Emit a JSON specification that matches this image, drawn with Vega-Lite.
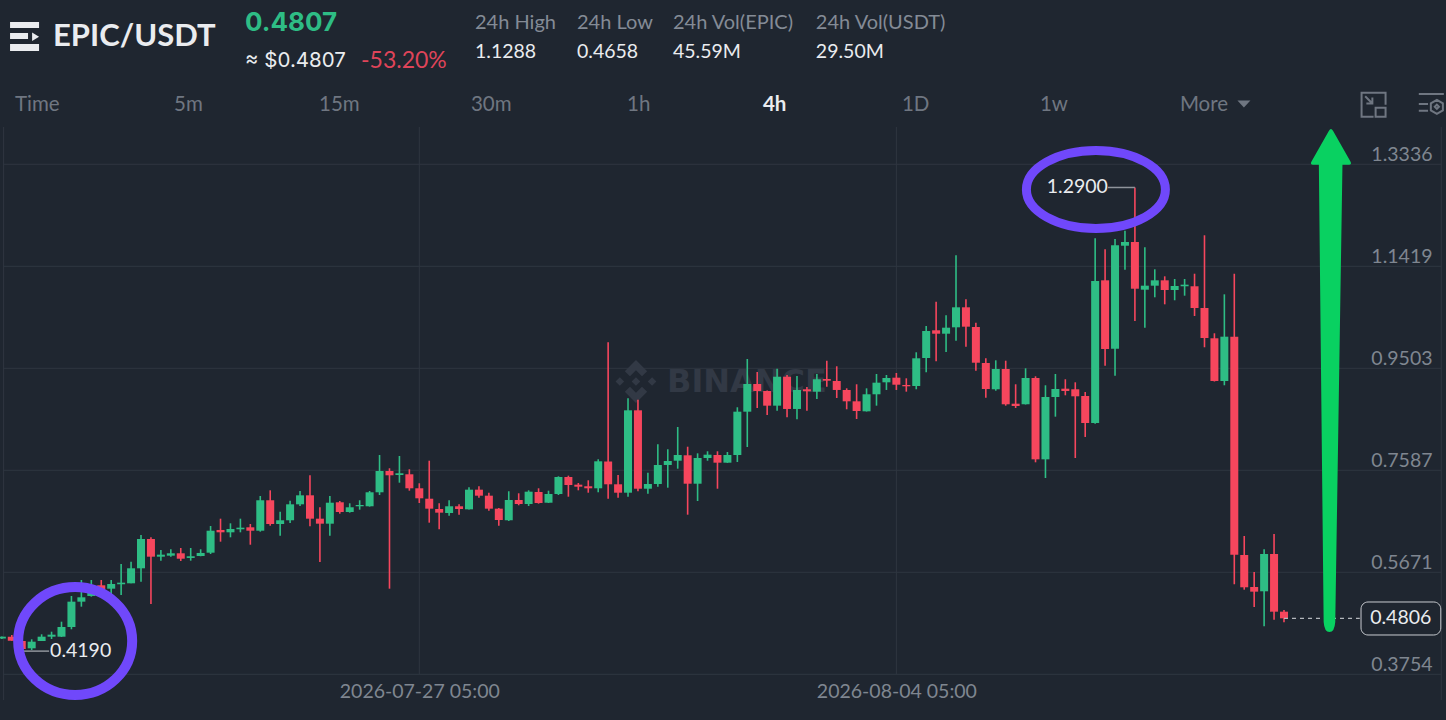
{
"$schema":"https://vega.github.io/schema/vega-lite/v6.json",
"description":"EPIC/USDT 4h candlestick screen with annotated low, high and a green up arrow",
"width":1446,"height":720,
"autosize":{"type":"none"},
"padding":0,
"background":"#1f2630",
"resolve":{"axis":{"x":"independent","y":"independent"}},
"datasets":{
"candles":[
{"t":"2026-07-20T05:00:00Z","o":0.4427,"h":0.4465,"l":0.4418,"c":0.4461},
{"t":"2026-07-20T09:00:00Z","o":0.4461,"h":0.4493,"l":0.4386,"c":0.4386},
{"t":"2026-07-20T13:00:00Z","o":0.4380,"h":0.4399,"l":0.4190,"c":0.4230},
{"t":"2026-07-20T17:00:00Z","o":0.4243,"h":0.4412,"l":0.4211,"c":0.4367},
{"t":"2026-07-20T21:00:00Z","o":0.4380,"h":0.4506,"l":0.4380,"c":0.4461},
{"t":"2026-07-21T01:00:00Z","o":0.4461,"h":0.4555,"l":0.4418,"c":0.4499},
{"t":"2026-07-21T05:00:00Z","o":0.4461,"h":0.4743,"l":0.4456,"c":0.4643},
{"t":"2026-07-21T09:00:00Z","o":0.4643,"h":0.5226,"l":0.4600,"c":0.5119},
{"t":"2026-07-21T13:00:00Z","o":0.5119,"h":0.5526,"l":0.5025,"c":0.5201},
{"t":"2026-07-21T17:00:00Z","o":0.5226,"h":0.5526,"l":0.5213,"c":0.5288},
{"t":"2026-07-21T21:00:00Z","o":0.5427,"h":0.5526,"l":0.5307,"c":0.5352},
{"t":"2026-07-22T01:00:00Z","o":0.5363,"h":0.5526,"l":0.5263,"c":0.5451},
{"t":"2026-07-22T05:00:00Z","o":0.5446,"h":0.5827,"l":0.5245,"c":0.5476},
{"t":"2026-07-22T09:00:00Z","o":0.5464,"h":0.5870,"l":0.5464,"c":0.5746},
{"t":"2026-07-22T13:00:00Z","o":0.5746,"h":0.6372,"l":0.5494,"c":0.6296},
{"t":"2026-07-22T17:00:00Z","o":0.6296,"h":0.6328,"l":0.5075,"c":0.5964},
{"t":"2026-07-22T21:00:00Z","o":0.5964,"h":0.6090,"l":0.5889,"c":0.6002},
{"t":"2026-07-23T01:00:00Z","o":0.5983,"h":0.6103,"l":0.5964,"c":0.6028},
{"t":"2026-07-23T05:00:00Z","o":0.6028,"h":0.6127,"l":0.5883,"c":0.5926},
{"t":"2026-07-23T09:00:00Z","o":0.5940,"h":0.6127,"l":0.5889,"c":0.5972},
{"t":"2026-07-23T13:00:00Z","o":0.5977,"h":0.6103,"l":0.5972,"c":0.6034},
{"t":"2026-07-23T17:00:00Z","o":0.6039,"h":0.6541,"l":0.6015,"c":0.6452},
{"t":"2026-07-23T21:00:00Z","o":0.6466,"h":0.6678,"l":0.6246,"c":0.6422},
{"t":"2026-07-24T01:00:00Z","o":0.6422,"h":0.6591,"l":0.6328,"c":0.6484},
{"t":"2026-07-24T05:00:00Z","o":0.6479,"h":0.6678,"l":0.6422,"c":0.6509},
{"t":"2026-07-24T09:00:00Z","o":0.6516,"h":0.6578,"l":0.6189,"c":0.6452},
{"t":"2026-07-24T13:00:00Z","o":0.6452,"h":0.7104,"l":0.6434,"c":0.7024},
{"t":"2026-07-24T17:00:00Z","o":0.7024,"h":0.7211,"l":0.6546,"c":0.6578},
{"t":"2026-07-24T21:00:00Z","o":0.6578,"h":0.6809,"l":0.6358,"c":0.6648},
{"t":"2026-07-25T01:00:00Z","o":0.6648,"h":0.7016,"l":0.6597,"c":0.6948},
{"t":"2026-07-25T05:00:00Z","o":0.6948,"h":0.7198,"l":0.6916,"c":0.7117},
{"t":"2026-07-25T09:00:00Z","o":0.7117,"h":0.7493,"l":0.6535,"c":0.6678},
{"t":"2026-07-25T13:00:00Z","o":0.6678,"h":0.6892,"l":0.5864,"c":0.6584},
{"t":"2026-07-25T17:00:00Z","o":0.6584,"h":0.7104,"l":0.6358,"c":0.6978},
{"t":"2026-07-25T21:00:00Z","o":0.6986,"h":0.7010,"l":0.6772,"c":0.6804},
{"t":"2026-07-26T01:00:00Z","o":0.6804,"h":0.6967,"l":0.6791,"c":0.6892},
{"t":"2026-07-26T05:00:00Z","o":0.6911,"h":0.7024,"l":0.6847,"c":0.6935},
{"t":"2026-07-26T09:00:00Z","o":0.6911,"h":0.7198,"l":0.6905,"c":0.7174},
{"t":"2026-07-26T13:00:00Z","o":0.7174,"h":0.7874,"l":0.7123,"c":0.7574},
{"t":"2026-07-26T17:00:00Z","o":0.7574,"h":0.7625,"l":0.5363,"c":0.7493},
{"t":"2026-07-26T21:00:00Z","o":0.7499,"h":0.7856,"l":0.7354,"c":0.7531},
{"t":"2026-07-27T01:00:00Z","o":0.7512,"h":0.7606,"l":0.7204,"c":0.7249},
{"t":"2026-07-27T05:00:00Z","o":0.7249,"h":0.7343,"l":0.6973,"c":0.7061},
{"t":"2026-07-27T09:00:00Z","o":0.7053,"h":0.7767,"l":0.6603,"c":0.6866},
{"t":"2026-07-27T13:00:00Z","o":0.6860,"h":0.6967,"l":0.6479,"c":0.6791},
{"t":"2026-07-27T17:00:00Z","o":0.6785,"h":0.7024,"l":0.6734,"c":0.6911},
{"t":"2026-07-27T21:00:00Z","o":0.6911,"h":0.6948,"l":0.6753,"c":0.6860},
{"t":"2026-07-28T01:00:00Z","o":0.6854,"h":0.7268,"l":0.6851,"c":0.7223},
{"t":"2026-07-28T05:00:00Z","o":0.7223,"h":0.7287,"l":0.7072,"c":0.7110},
{"t":"2026-07-28T09:00:00Z","o":0.7110,"h":0.7166,"l":0.6828,"c":0.6866},
{"t":"2026-07-28T13:00:00Z","o":0.6866,"h":0.6879,"l":0.6546,"c":0.6653},
{"t":"2026-07-28T17:00:00Z","o":0.6648,"h":0.7193,"l":0.6635,"c":0.7029},
{"t":"2026-07-28T21:00:00Z","o":0.7029,"h":0.7155,"l":0.6930,"c":0.6954},
{"t":"2026-07-29T01:00:00Z","o":0.6954,"h":0.7211,"l":0.6916,"c":0.7185},
{"t":"2026-07-29T05:00:00Z","o":0.7179,"h":0.7249,"l":0.6960,"c":0.6973},
{"t":"2026-07-29T09:00:00Z","o":0.6978,"h":0.7204,"l":0.6973,"c":0.7142},
{"t":"2026-07-29T13:00:00Z","o":0.7142,"h":0.7474,"l":0.7123,"c":0.7461},
{"t":"2026-07-29T17:00:00Z","o":0.7461,"h":0.7486,"l":0.7091,"c":0.7311},
{"t":"2026-07-29T21:00:00Z","o":0.7317,"h":0.7348,"l":0.7211,"c":0.7279},
{"t":"2026-07-30T01:00:00Z","o":0.7287,"h":0.7399,"l":0.7166,"c":0.7249},
{"t":"2026-07-30T05:00:00Z","o":0.7249,"h":0.7794,"l":0.7174,"c":0.7756},
{"t":"2026-07-30T09:00:00Z","o":0.7752,"h":0.9992,"l":0.7053,"c":0.7324},
{"t":"2026-07-30T13:00:00Z","o":0.7324,"h":0.7499,"l":0.7072,"c":0.7166},
{"t":"2026-07-30T17:00:00Z","o":0.7166,"h":0.8940,"l":0.7091,"c":0.8714},
{"t":"2026-07-30T21:00:00Z","o":0.8714,"h":0.8913,"l":0.7193,"c":0.7241},
{"t":"2026-07-31T01:00:00Z","o":0.7241,"h":0.7542,"l":0.7147,"c":0.7330},
{"t":"2026-07-31T05:00:00Z","o":0.7330,"h":0.8075,"l":0.7279,"c":0.7687},
{"t":"2026-07-31T09:00:00Z","o":0.7687,"h":0.7982,"l":0.7260,"c":0.7762},
{"t":"2026-07-31T13:00:00Z","o":0.7767,"h":0.8400,"l":0.7617,"c":0.7874},
{"t":"2026-07-31T17:00:00Z","o":0.7869,"h":0.8030,"l":0.6753,"c":0.7335},
{"t":"2026-07-31T21:00:00Z","o":0.7335,"h":0.7906,"l":0.7010,"c":0.7818},
{"t":"2026-08-01T01:00:00Z","o":0.7818,"h":0.7944,"l":0.7767,"c":0.7880},
{"t":"2026-08-01T05:00:00Z","o":0.7874,"h":0.7944,"l":0.7241,"c":0.7730},
{"t":"2026-08-01T09:00:00Z","o":0.7730,"h":0.7931,"l":0.7726,"c":0.7874},
{"t":"2026-08-01T13:00:00Z","o":0.7874,"h":0.8771,"l":0.7743,"c":0.8688},
{"t":"2026-08-01T17:00:00Z","o":0.8688,"h":0.9678,"l":0.8025,"c":0.9208},
{"t":"2026-08-01T21:00:00Z","o":0.9208,"h":0.9434,"l":0.8757,"c":0.9077},
{"t":"2026-08-02T01:00:00Z","o":0.9077,"h":0.9086,"l":0.8626,"c":0.8801},
{"t":"2026-08-02T05:00:00Z","o":0.8801,"h":0.9496,"l":0.8707,"c":0.9345},
{"t":"2026-08-02T09:00:00Z","o":0.9345,"h":0.9377,"l":0.8583,"c":0.8739},
{"t":"2026-08-02T13:00:00Z","o":0.8739,"h":0.9358,"l":0.8545,"c":0.9096},
{"t":"2026-08-02T17:00:00Z","o":0.9109,"h":0.9152,"l":0.8707,"c":0.9071},
{"t":"2026-08-02T21:00:00Z","o":0.9064,"h":0.9396,"l":0.8926,"c":0.9297},
{"t":"2026-08-03T01:00:00Z","o":0.9302,"h":0.9646,"l":0.9157,"c":0.9270},
{"t":"2026-08-03T05:00:00Z","o":0.9265,"h":0.9541,"l":0.8945,"c":0.9096},
{"t":"2026-08-03T09:00:00Z","o":0.9096,"h":0.9127,"l":0.8733,"c":0.8883},
{"t":"2026-08-03T13:00:00Z","o":0.8883,"h":0.9203,"l":0.8551,"c":0.8701},
{"t":"2026-08-03T17:00:00Z","o":0.8695,"h":0.9127,"l":0.8691,"c":0.9015},
{"t":"2026-08-03T21:00:00Z","o":0.9015,"h":0.9396,"l":0.8801,"c":0.9233},
{"t":"2026-08-04T01:00:00Z","o":0.9240,"h":0.9377,"l":0.9096,"c":0.9321},
{"t":"2026-08-04T05:00:00Z","o":0.9327,"h":0.9415,"l":0.9096,"c":0.9195},
{"t":"2026-08-04T09:00:00Z","o":0.9189,"h":0.9315,"l":0.9064,"c":0.9165},
{"t":"2026-08-04T13:00:00Z","o":0.9171,"h":0.9804,"l":0.9109,"c":0.9691},
{"t":"2026-08-04T17:00:00Z","o":0.9697,"h":1.0298,"l":0.9428,"c":1.0204},
{"t":"2026-08-04T21:00:00Z","o":1.0217,"h":1.0754,"l":0.9635,"c":1.0153},
{"t":"2026-08-05T01:00:00Z","o":1.0153,"h":1.0499,"l":0.9809,"c":1.0266},
{"t":"2026-08-05T05:00:00Z","o":1.0273,"h":1.1626,"l":1.0022,"c":1.0649},
{"t":"2026-08-05T09:00:00Z","o":1.0649,"h":1.0799,"l":0.9909,"c":1.0285},
{"t":"2026-08-05T13:00:00Z","o":1.0279,"h":1.0360,"l":0.9458,"c":0.9608},
{"t":"2026-08-05T17:00:00Z","o":0.9603,"h":0.9691,"l":0.8951,"c":0.9114},
{"t":"2026-08-05T21:00:00Z","o":0.9109,"h":0.9653,"l":0.9082,"c":0.9490},
{"t":"2026-08-06T01:00:00Z","o":0.9490,"h":0.9646,"l":0.8801,"c":0.8827},
{"t":"2026-08-06T05:00:00Z","o":0.8838,"h":0.9203,"l":0.8757,"c":0.8795},
{"t":"2026-08-06T09:00:00Z","o":0.8827,"h":0.9503,"l":0.8823,"c":0.9321},
{"t":"2026-08-06T13:00:00Z","o":0.9321,"h":0.9353,"l":0.7737,"c":0.7793},
{"t":"2026-08-06T17:00:00Z","o":0.7793,"h":0.9184,"l":0.7442,"c":0.8964},
{"t":"2026-08-06T21:00:00Z","o":0.8964,"h":0.9396,"l":0.8594,"c":0.9114},
{"t":"2026-08-07T01:00:00Z","o":0.9120,"h":0.9297,"l":0.8996,"c":0.9077},
{"t":"2026-08-07T05:00:00Z","o":0.9109,"h":0.9240,"l":0.7818,"c":0.8977},
{"t":"2026-08-07T09:00:00Z","o":0.8983,"h":0.9058,"l":0.8213,"c":0.8475},
{"t":"2026-08-07T13:00:00Z","o":0.8475,"h":1.1945,"l":0.8462,"c":1.1143},
{"t":"2026-08-07T17:00:00Z","o":1.1156,"h":1.1738,"l":0.9552,"c":0.9866},
{"t":"2026-08-07T21:00:00Z","o":0.9871,"h":1.1932,"l":0.9364,"c":1.1814},
{"t":"2026-08-08T01:00:00Z","o":1.1806,"h":1.2088,"l":1.1355,"c":1.1876},
{"t":"2026-08-08T05:00:00Z","o":1.1876,"h":1.2900,"l":1.0392,"c":1.0998},
{"t":"2026-08-08T09:00:00Z","o":1.0980,"h":1.1776,"l":1.0266,"c":1.1055},
{"t":"2026-08-08T13:00:00Z","o":1.1055,"h":1.1363,"l":1.0837,"c":1.1156},
{"t":"2026-08-08T17:00:00Z","o":1.1156,"h":1.1231,"l":1.0705,"c":1.0974},
{"t":"2026-08-08T21:00:00Z","o":1.0974,"h":1.1181,"l":1.0781,"c":1.1049},
{"t":"2026-08-09T01:00:00Z","o":1.1044,"h":1.1181,"l":1.0867,"c":1.1074},
{"t":"2026-08-09T05:00:00Z","o":1.1044,"h":1.1280,"l":1.0486,"c":1.0636},
{"t":"2026-08-09T09:00:00Z","o":1.0636,"h":1.2002,"l":0.9898,"c":1.0072},
{"t":"2026-08-09T13:00:00Z","o":1.0067,"h":1.0161,"l":0.9255,"c":0.9265},
{"t":"2026-08-09T17:00:00Z","o":0.9265,"h":1.0893,"l":0.9184,"c":1.0097},
{"t":"2026-08-09T21:00:00Z","o":1.0097,"h":1.1280,"l":0.5446,"c":0.6002},
{"t":"2026-08-10T01:00:00Z","o":0.5996,"h":0.6353,"l":0.5344,"c":0.5389},
{"t":"2026-08-10T05:00:00Z","o":0.5395,"h":0.5677,"l":0.5019,"c":0.5307},
{"t":"2026-08-10T09:00:00Z","o":0.5314,"h":0.6103,"l":0.4657,"c":0.6015},
{"t":"2026-08-10T13:00:00Z","o":0.6015,"h":0.6390,"l":0.4781,"c":0.4931},
{"t":"2026-08-10T17:00:00Z","o":0.4931,"h":0.4963,"l":0.4732,"c":0.4806}
],
"header":[
{"label":"24h High","t":"2026-07-28T03:25:00Z","price":1.5990},
{"label":"24h Low","t":"2026-07-29T20:28:00Z","price":1.5990},
{"label":"24h Vol(EPIC)","t":"2026-07-31T11:05:00Z","price":1.5990},
{"label":"24h Vol(USDT)","t":"2026-08-02T20:36:00Z","price":1.5990}
],
"headerValues":[
{"label":"1.1288","t":"2026-07-28T03:25:00Z","price":1.5445},
{"label":"0.4658","t":"2026-07-29T20:28:00Z","price":1.5445},
{"label":"45.59M","t":"2026-07-31T11:05:00Z","price":1.5445},
{"label":"29.50M","t":"2026-08-02T20:36:00Z","price":1.5445}
],
"nav":[
{"label":"Time","t":"2026-07-20T10:18:00Z","price":1.4449},
{"label":"5m","t":"2026-07-23T02:18:00Z","price":1.4449},
{"label":"15m","t":"2026-07-25T12:38:00Z","price":1.4449},
{"label":"30m","t":"2026-07-28T01:48:00Z","price":1.4449},
{"label":"1h","t":"2026-07-30T16:35:00Z","price":1.4449},
{"label":"1D","t":"2026-08-04T07:14:00Z","price":1.4449},
{"label":"1w","t":"2026-08-06T14:46:00Z","price":1.4449},
{"label":"More","t":"2026-08-08T23:06:00Z","price":1.4449}
]
},
"layer":[
{"data":{"values":[
{"t":"2026-07-20T05:42:00Z","t2":"2026-08-13T08:18:00Z","price":1.3336},
{"t":"2026-07-20T05:42:00Z","t2":"2026-08-13T08:18:00Z","price":1.1419},
{"t":"2026-07-20T05:42:00Z","t2":"2026-08-13T08:18:00Z","price":0.9503},
{"t":"2026-07-20T05:42:00Z","t2":"2026-08-13T08:18:00Z","price":0.7587},
{"t":"2026-07-20T05:42:00Z","t2":"2026-08-13T08:18:00Z","price":0.5671},
{"t":"2026-07-20T05:42:00Z","t2":"2026-08-13T08:18:00Z","price":0.3754}]},
"mark":{"type":"rule","color":"#2f3640","strokeWidth":1},
"encoding":{
"x":{"field":"t","type":"temporal","title":null,
"scale":{"type":"utc","nice":false,"padding":0,"domain":[{"year":2026,"month":7,"date":20,"hours":4,"minutes":15,"utc":true},{"year":2026,"month":8,"date":13,"hours":10,"minutes":12,"utc":true}]},
"axis":{"values":[{"year":2026,"month":7,"date":27,"hours":5,"utc":true},{"year":2026,"month":8,"date":4,"hours":5,"utc":true}],"format":"%Y-%m-%d %H:%M","grid":false,"domain":false,"ticks":false,"offset":-29,"labelPadding":0,"labelBaseline":"middle","labelFont":"Lato","labelFontSize":19.5,"labelColor":"#7f8690","title":null}},
"x2":{"field":"t2"},
"y":{"field":"price","type":"quantitative","title":null,
"scale":{"nice":false,"zero":false,"domain":[0.2896,1.6422]},
"axis":{"orient":"right","values":[1.3336,1.1419,0.9503,0.7587,0.5671,0.3754],"format":".4f","grid":false,"domain":false,"ticks":false,"offset":-14,"labelPadding":0,"labelAlign":"right","labelBaseline":"middle","labelOffset":-10,"labelFont":"Lato","labelFontSize":19.5,"labelColor":"#7f8690","title":null}}
}},
{"data":{"values":[
{"t":"2026-07-27T05:00:00Z","price":0.3754,"price2":1.4036},
{"t":"2026-08-04T05:00:00Z","price":0.3754,"price2":1.4036},
{"t":"2026-07-20T05:42:00Z","price":0.3272,"price2":1.4036},
{"t":"2026-08-13T08:18:00Z","price":0.3272,"price2":1.4036}]},
"mark":{"type":"rule","color":"#2f3640","strokeWidth":1},
"encoding":{"x":{"field":"t","type":"temporal","axis":null},"y":{"field":"price","type":"quantitative","axis":null},"y2":{"field":"price2"}}},
{"data":{"values":[{"label":"BINANCE","t":"2026-07-31T08:41:00Z","price":0.9255}]},
"mark":{"type":"text","align":"left","baseline":"middle","font":"DejaVu Sans","fontWeight":"bold","fontSize":32,"color":"#323945"},
"encoding":{"x":{"field":"t","type":"temporal","axis":null},"y":{"field":"price","type":"quantitative","axis":null},"text":{"field":"label"}}},
{"data":{"values":[{"t":"2026-07-30T20:12:00Z","price":0.9255}]},
"mark":{"type":"point","filled":true,"size":1849,"opacity":1,"color":"#323945","shape":"M0 -0.2 L0.2 0 L0 0.2 L-0.2 0 Z M-0.75 -0.2 L-0.55 0 L-0.75 0.2 L-0.95 0 Z M0.75 -0.2 L0.95 0 L0.75 0.2 L0.55 0 Z M0 -1 L0.52 -0.48 L0.28 -0.24 L0 -0.52 L-0.28 -0.24 L-0.52 -0.48 Z M0 1 L0.52 0.48 L0.28 0.24 L0 0.52 L-0.28 0.24 L-0.52 0.48 Z"},
"encoding":{"x":{"field":"t","type":"temporal","axis":null},"y":{"field":"price","type":"quantitative","axis":null}}},
{"data":{"name":"candles"},
"mark":{"type":"rule","strokeWidth":1.6},
"encoding":{"x":{"field":"t","type":"temporal","axis":null},"y":{"field":"l","type":"quantitative","axis":null},"y2":{"field":"h"},
"color":{"condition":{"test":"datum.c >= datum.o","value":"#2ebd85"},"value":"#f6465d"}}},
{"data":{"name":"candles"},
"mark":{"type":"bar","size":8},
"encoding":{"x":{"field":"t","type":"temporal","axis":null},"y":{"field":"o","type":"quantitative","axis":null},"y2":{"field":"c"},
"color":{"condition":{"test":"datum.c >= datum.o","value":"#2ebd85"},"value":"#f6465d"}}},
{"data":{"values":[
{"t":"2026-07-20T13:00:00Z","t2":"2026-07-21T00:00:00Z","price":0.4190},
{"t":"2026-08-07T18:08:00Z","t2":"2026-08-08T05:00:00Z","price":1.2900}]},
"mark":{"type":"rule","color":"#8f949b","strokeWidth":1.5},
"encoding":{"x":{"field":"t","type":"temporal","axis":null},"x2":{"field":"t2"},"y":{"field":"price","type":"quantitative","axis":null}}},
{"data":{"values":[{"t":"2026-08-10T17:00:00Z","t2":"2026-08-11T23:30:00Z","price":0.4806}]},
"mark":{"type":"rule","color":"#b4b8bd","strokeWidth":1.2,"strokeDash":[4,4]},
"encoding":{"x":{"field":"t","type":"temporal","axis":null},"x2":{"field":"t2"},"y":{"field":"price","type":"quantitative","axis":null}}},
{"data":{"values":[{"t":"2026-08-12T00:00:00Z","t2":"2026-08-13T08:06:00Z","price":0.5113,"price2":0.4493}]},
"mark":{"type":"rect","fill":"#1f2630","stroke":"#c9ccd1","strokeWidth":1,"cornerRadius":7},
"encoding":{"x":{"field":"t","type":"temporal","axis":null},"x2":{"field":"t2"},"y":{"field":"price","type":"quantitative","axis":null},"y2":{"field":"price2"}}},
{"data":{"values":[{"label":"0.4806","t":"2026-08-12T16:00:00Z","price":0.4806}]},
"mark":{"type":"text","align":"center","baseline":"middle","font":"Lato","fontSize":19.5,"color":"#eaecef"},
"encoding":{"x":{"field":"t","type":"temporal","axis":null},"y":{"field":"price","type":"quantitative","axis":null},"text":{"field":"label"}}},
{"data":{"values":[{"t":"2026-07-21T10:30:00Z","price":0.4380}]},
"mark":{"type":"point","filled":false,"opacity":1,"size":12996,"stroke":"#7048fb","strokeWidth":10,"shape":"M-1 0 C-1 -0.523 -0.552 -0.947 0 -0.947 C0.552 -0.947 1 -0.523 1 0 C1 0.523 0.552 0.947 0 0.947 C-0.552 0.947 -1 0.523 -1 0 Z"},
"encoding":{"x":{"field":"t","type":"temporal","axis":null},"y":{"field":"price","type":"quantitative","axis":null}}},
{"data":{"values":[{"t":"2026-08-07T13:18:00Z","price":1.2862}]},
"mark":{"type":"point","filled":false,"opacity":1,"size":19321,"stroke":"#7048fb","strokeWidth":9,"shape":"M-1 0 C-1 -0.31 -0.552 -0.561 0 -0.561 C0.552 -0.561 1 -0.31 1 0 C1 0.31 0.552 0.561 0 0.561 C-0.552 0.561 -1 0.31 -1 0 Z"},
"encoding":{"x":{"field":"t","type":"temporal","axis":null},"y":{"field":"price","type":"quantitative","axis":null}}},
{"data":{"values":[{"label":"0.4190","t":"2026-07-21T00:00:00Z","price":0.4190}]},
"mark":{"type":"text","align":"left","baseline":"middle","dx":1,"font":"Lato","fontSize":19.5,"color":"#eaecef"},
"encoding":{"x":{"field":"t","type":"temporal","axis":null},"y":{"field":"price","type":"quantitative","axis":null},"text":{"field":"label"}}},
{"data":{"values":[{"label":"1.2900","t":"2026-08-07T18:08:00Z","price":1.2900}]},
"mark":{"type":"text","align":"right","baseline":"middle","font":"Lato","fontSize":19.5,"color":"#eaecef"},
"encoding":{"x":{"field":"t","type":"temporal","axis":null},"y":{"field":"price","type":"quantitative","axis":null},"text":{"field":"label"}}},
{"data":{"values":[{"t":"2026-08-11T11:30:00Z","price":0.9293}]},
"mark":{"type":"point","filled":true,"opacity":1,"size":255025,"color":"#09d161","shape":"M-0.004 -0.985 Q0.004 -1 0.012 -0.985 L0.08 -0.865 Q0.09 -0.85 0.07 -0.85 L0.0495 -0.85 L0.021 0.96 Q0.018 1 -0.002 1 Q-0.022 1 -0.025 0.96 L-0.044 -0.85 L-0.062 -0.85 Q-0.082 -0.85 -0.072 -0.865 Z"},
"encoding":{"x":{"field":"t","type":"temporal","axis":null},"y":{"field":"price","type":"quantitative","axis":null}}},
{"data":{"values":[{"label":"EPIC/USDT","t":"2026-07-21T01:36:00Z","price":1.5727}]},
"mark":{"type":"text","align":"left","baseline":"middle","font":"Lato","fontWeight":"bold","fontSize":31,"color":"#eaecef"},
"encoding":{"x":{"field":"t","type":"temporal","axis":null},"y":{"field":"price","type":"quantitative","axis":null},"text":{"field":"label"}}},
{"data":{"values":[{"label":"0.4807","t":"2026-07-24T06:52:00Z","price":1.5990}]},
"mark":{"type":"text","align":"left","baseline":"middle","font":"Inter","fontWeight":"bold","fontSize":26,"color":"#2ebd85"},
"encoding":{"x":{"field":"t","type":"temporal","axis":null},"y":{"field":"price","type":"quantitative","axis":null},"text":{"field":"label"}}},
{"data":{"values":[{"label":"≈ $0.4807","t":"2026-07-24T06:52:00Z","price":1.5276}]},
"mark":{"type":"text","align":"left","baseline":"middle","font":"Inter","fontSize":20.5,"color":"#eaecef"},
"encoding":{"x":{"field":"t","type":"temporal","axis":null},"y":{"field":"price","type":"quantitative","axis":null},"text":{"field":"label"}}},
{"data":{"values":[{"label":"-53.20%","t":"2026-07-26T05:32:00Z","price":1.5276}]},
"mark":{"type":"text","align":"left","baseline":"middle","font":"Lato","fontSize":23,"color":"#df4459"},
"encoding":{"x":{"field":"t","type":"temporal","axis":null},"y":{"field":"price","type":"quantitative","axis":null},"text":{"field":"label"}}},
{"data":{"name":"headerValues"},
"mark":{"type":"text","align":"left","baseline":"middle","font":"Lato","fontSize":19.5,"color":"#eaecef"},
"encoding":{"x":{"field":"t","type":"temporal","axis":null},"y":{"field":"price","type":"quantitative","axis":null},"text":{"field":"label"}}},
{"data":{"name":"header"},
"mark":{"type":"text","align":"left","baseline":"middle","font":"Lato","fontSize":20,"color":"#848b96"},
"encoding":{"x":{"field":"t","type":"temporal","axis":null},"y":{"field":"price","type":"quantitative","axis":null},"text":{"field":"label"}}},
{"data":{"name":"nav"},
"mark":{"type":"text","align":"left","baseline":"middle","font":"Lato","fontSize":20.5,"color":"#6f7681"},
"encoding":{"x":{"field":"t","type":"temporal","axis":null},"y":{"field":"price","type":"quantitative","axis":null},"text":{"field":"label"}}},
{"data":{"values":[{"label":"4h","t":"2026-08-01T23:18:00Z","price":1.4449}]},
"mark":{"type":"text","align":"left","baseline":"middle","font":"Lato","fontWeight":"bold","fontSize":20.5,"color":"#eaecef"},
"encoding":{"x":{"field":"t","type":"temporal","axis":null},"y":{"field":"price","type":"quantitative","axis":null},"text":{"field":"label"}}},
{"data":{"values":[{"t":"2026-08-10T00:52:00Z","price":1.4468}]},
"mark":{"type":"point","filled":true,"opacity":1,"size":169,"color":"#6f7681","shape":"M-1 -0.55 L1 -0.55 L0 0.55 Z"},
"encoding":{"x":{"field":"t","type":"temporal","axis":null},"y":{"field":"price","type":"quantitative","axis":null}}},
{"data":{"values":[{"t":"2026-07-20T14:08:00Z","price":1.5736}]},
"mark":{"type":"point","filled":true,"opacity":1,"size":841,"color":"#eaecef","shape":"M-1 -1 L1 -1 L1 -0.586 L-1 -0.586 Z M-1 -0.24 L0.24 -0.24 L0.24 0.17 L-1 0.17 Z M0.52 -0.28 L1 0.02 L0.52 0.31 Z M-1 0.52 L1 0.52 L1 1 L-1 1 Z"},
"encoding":{"x":{"field":"t","type":"temporal","axis":null},"y":{"field":"price","type":"quantitative","axis":null}}},
{"data":{"values":[{"t":"2026-08-12T05:03:00Z","price":1.4455}]},
"mark":{"type":"point","filled":false,"opacity":1,"size":576,"stroke":"#6f7681","strokeWidth":2,"shape":"M1 0 L1 -1 L-1 -1 L-1 1 L0 1 M0.17 0.25 L1 0.25 L1 1 L0.17 1 Z M-0.7 -0.7 L-0.1 -0.1 M-0.1 -0.6 L-0.1 -0.1 L-0.6 -0.1"},
"encoding":{"x":{"field":"t","type":"temporal","axis":null},"y":{"field":"price","type":"quantitative","axis":null}}},
{"data":{"values":[{"t":"2026-08-13T04:06:00Z","price":1.4468}]},
"mark":{"type":"point","filled":false,"opacity":1,"size":784,"stroke":"#6f7681","strokeWidth":2,"shape":"M-0.86 -0.71 L0.93 -0.71 M-0.86 0 L-0.2 0 M-0.86 0.48 L-0.2 0.48 M0.43 -0.3 L0.86 -0.05 L0.86 0.45 L0.43 0.7 L0 0.45 L0 -0.05 Z M0.43 0.05 L0.58 0.2 L0.43 0.35 L0.28 0.2 Z"},
"encoding":{"x":{"field":"t","type":"temporal","axis":null},"y":{"field":"price","type":"quantitative","axis":null}}}
],
"config":{"view":{"stroke":null}}
}
